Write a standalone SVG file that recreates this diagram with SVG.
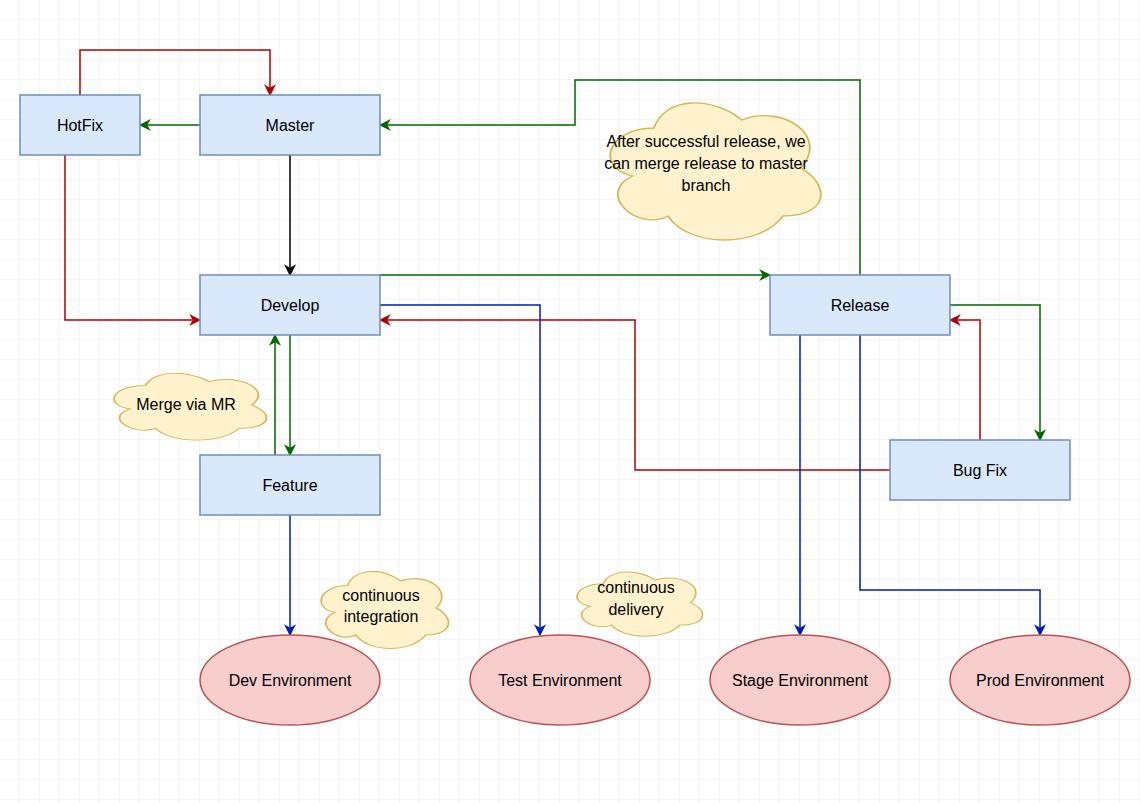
<svg xmlns="http://www.w3.org/2000/svg" width="1140" height="803" viewBox="0 0 1140 803">
<defs>
<pattern id="g" width="20" height="20" patternUnits="userSpaceOnUse"><path d="M20 0V20M0 20H20" fill="none" stroke="#e8e8e8" stroke-width="1"/></pattern>
<marker id="ar" viewBox="0 0 10 10" refX="9" refY="5" markerWidth="8" markerHeight="8" orient="auto"><path d="M0 0L10 5L0 10L3 5Z" fill="#b20000"/></marker>
<marker id="ag" viewBox="0 0 10 10" refX="9" refY="5" markerWidth="8" markerHeight="8" orient="auto"><path d="M0 0L10 5L0 10L3 5Z" fill="#006600"/></marker>
<marker id="ab" viewBox="0 0 10 10" refX="9" refY="5" markerWidth="8" markerHeight="8" orient="auto"><path d="M0 0L10 5L0 10L3 5Z" fill="#001dbc"/></marker>
<marker id="ak" viewBox="0 0 10 10" refX="9" refY="5" markerWidth="8" markerHeight="8" orient="auto"><path d="M0 0L10 5L0 10L3 5Z" fill="#000"/></marker>
<path id="cl" d="M0.25,0.25C0.05,0.25 0,0.5 0.16,0.55C0,0.66 0.18,0.9 0.31,0.8C0.4,1 0.7,1 0.8,0.8C1,0.8 1,0.6 0.875,0.5C1,0.3 0.8,0.1 0.625,0.2C0.5,0.05 0.3,0.05 0.25,0.25Z"/>
</defs>
<style>
.b{fill:#dae8fc;stroke:#6c8ebf;stroke-width:1.5}
.e{fill:#f8cecc;stroke:#b85450;stroke-width:1.5}
.c{fill:#fff2cc;stroke:#d6b656;stroke-width:1.5}
text{font-family:"Liberation Sans",Arial,sans-serif;font-size:16px;fill:#000;text-anchor:middle;dominant-baseline:central}
.r{fill:none;stroke:#b20000;stroke-width:1.5;marker-end:url(#ar)}
.gr{fill:none;stroke:#006600;stroke-width:1.5;marker-end:url(#ag)}
.bl{fill:none;stroke:#001dbc;stroke-width:1.5;marker-end:url(#ab)}
.k{fill:none;stroke:#000;stroke-width:1.5;marker-end:url(#ak)}
</style>
<rect width="1140" height="803" fill="#fff"/>
<rect width="1140" height="803" fill="url(#g)"/>
<g id="connectors">
<path class="r" d="M80 95V50H270V95"/>
<path class="gr" d="M200 125H140"/>
<path class="r" d="M65 155V320H200"/>
<path class="k" d="M290 155V275"/>
<path class="gr" d="M380 275H770"/>
<path class="gr" d="M860 275V80H575V125H380"/>
<path class="bl" d="M380 305H540V635"/>
<path class="r" d="M890 470H635V320H380"/>
<path class="gr" d="M950 305H1040V440"/>
<path class="r" d="M980 440V320H950"/>
<path class="bl" d="M800 335V635"/>
<path class="bl" d="M860 335V590H1040V635"/>
<path class="gr" d="M290 335V455"/>
<path class="gr" d="M275 455V335"/>
<path class="bl" d="M290 515V635"/>
</g>
<g id="hotfix"><rect class="b" x="20" y="95" width="120" height="60"/><text x="80" y="125">HotFix</text></g>
<g id="master"><rect class="b" x="200" y="95" width="180" height="60"/><text x="290" y="125">Master</text></g>
<g id="develop"><rect class="b" x="200" y="275" width="180" height="60"/><text x="290" y="305">Develop</text></g>
<g id="feature"><rect class="b" x="200" y="455" width="180" height="60"/><text x="290" y="485">Feature</text></g>
<g id="release"><rect class="b" x="770" y="275" width="180" height="60"/><text x="860" y="305">Release</text></g>
<g id="bugfix"><rect class="b" x="890" y="440" width="180" height="60"/><text x="980" y="470">Bug Fix</text></g>
<g id="devenv"><ellipse class="e" cx="290" cy="680" rx="90" ry="45"/><text x="290" y="680">Dev Environment</text></g>
<g id="testenv"><ellipse class="e" cx="560" cy="680" rx="90" ry="45"/><text x="560" y="680">Test Environment</text></g>
<g id="stageenv"><ellipse class="e" cx="800" cy="680" rx="90" ry="45"/><text x="800" y="680">Stage Environment</text></g>
<g id="prodenv"><ellipse class="e" cx="1040" cy="680" rx="90" ry="45"/><text x="1040" y="680">Prod Environment</text></g>
<g id="cloud1"><use href="#cl" class="c" transform="translate(595,88) scale(235,160)" vector-effect="non-scaling-stroke" style="stroke-width:0.008"/><text x="706" y="141">After successful release, we</text><text x="706" y="163">can merge release to master</text><text x="706" y="185">branch</text></g>
<g id="cloud2"><use href="#cl" class="c" transform="translate(103,366) scale(170,78)" style="stroke-width:0.011"/><text x="186" y="404">Merge via MR</text></g>
<g id="cloud3"><use href="#cl" class="c" transform="translate(312,563) scale(142,90)" style="stroke-width:0.012"/><text x="381" y="595">continuous</text><text x="381" y="616">integration</text></g>
<g id="cloud4"><use href="#cl" class="c" transform="translate(568,565) scale(140,75)" style="stroke-width:0.012"/><text x="636" y="587">continuous</text><text x="636" y="609">delivery</text></g>
</svg>
